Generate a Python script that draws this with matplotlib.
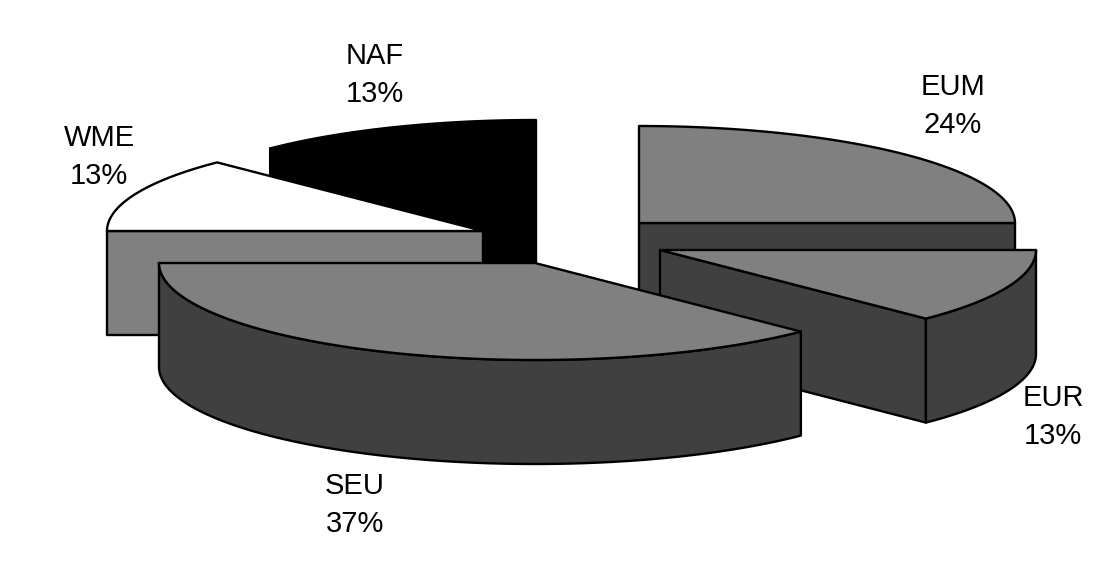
import matplotlib
matplotlib.use('Agg')
import matplotlib.pyplot as plt
import numpy as np

plt.rcParams['font.family'] = ['Liberation Sans', 'DejaVu Sans']

# slices, clockwise from 12 o'clock
regions = ['EUM', 'EUR', 'SEU', 'WME', 'NAF']
printed_pct = [24, 13, 37, 13, 13]
# share of the circle
slice_share = [25, 12.5, 37.5, 12.5, 12.5]

# layout (pixels)
centre_x = [639, 660, 535, 483, 536]
centre_y = [223, 250, 263, 231, 217]
rx = 376
ry = 97
depth = 104

top_col = ['#808080', '#808080', '#808080', '#ffffff', '#000000']
side_col = ['#404040', '#404040', '#404040', '#808080', '#000000']
draw_order = [4, 3, 0, 1, 2]

label_x = [953, 1053, 355, 99, 375]
label_y = [106, 417, 505, 157, 75]

edge = dict(edgecolor='black', linewidth=1.7, joinstyle='round')


def arc(cx, cy, a1, a2):
    a = np.radians(np.linspace(a1, a2, 120))
    return cx + rx * np.cos(a), cy - ry * np.sin(a)


fig = plt.figure(figsize=(11.09, 5.64), dpi=100)
ax = fig.add_axes([0, 0, 1, 1])
ax.set_xlim(0, 1109)
ax.set_ylim(564, 0)
ax.axis('off')

ends = 90 - np.cumsum([0] + slice_share) * 3.6

for i in draw_order:
    cx, cy = centre_x[i], centre_y[i]
    a1, a2 = ends[i], ends[i + 1]

    # cut faces that look towards the viewer
    for a, vis in [(a1, np.cos(np.radians(a1)) < -1e-9), (a2, np.cos(np.radians(a2)) > 1e-9)]:
        if vis:
            px, py = arc(cx, cy, a, a)
            ax.fill([cx, px[0], px[0], cx], [cy, py[0], py[0] + depth, cy + depth],
                    facecolor=side_col[i], **edge)

    # outer rim, only the lower half of the ellipse shows
    hi, lo = min(a1, 0), max(a2, -180)
    if hi > lo:
        px, py = arc(cx, cy, hi, lo)
        ax.fill(np.r_[px, px[::-1]], np.r_[py, py[::-1] + depth],
                facecolor=side_col[i], **edge)

    # top
    px, py = arc(cx, cy, a1, a2)
    ax.fill(np.r_[cx, px], np.r_[cy, py], facecolor=top_col[i], **edge)

for i in range(len(regions)):
    ax.text(label_x[i], label_y[i], regions[i] + '\n' + str(printed_pct[i]) + '%',
            ha='center', va='center', fontsize=21, linespacing=1.42, color='black')

fig.savefig('out.png', dpi=100, facecolor='white')
